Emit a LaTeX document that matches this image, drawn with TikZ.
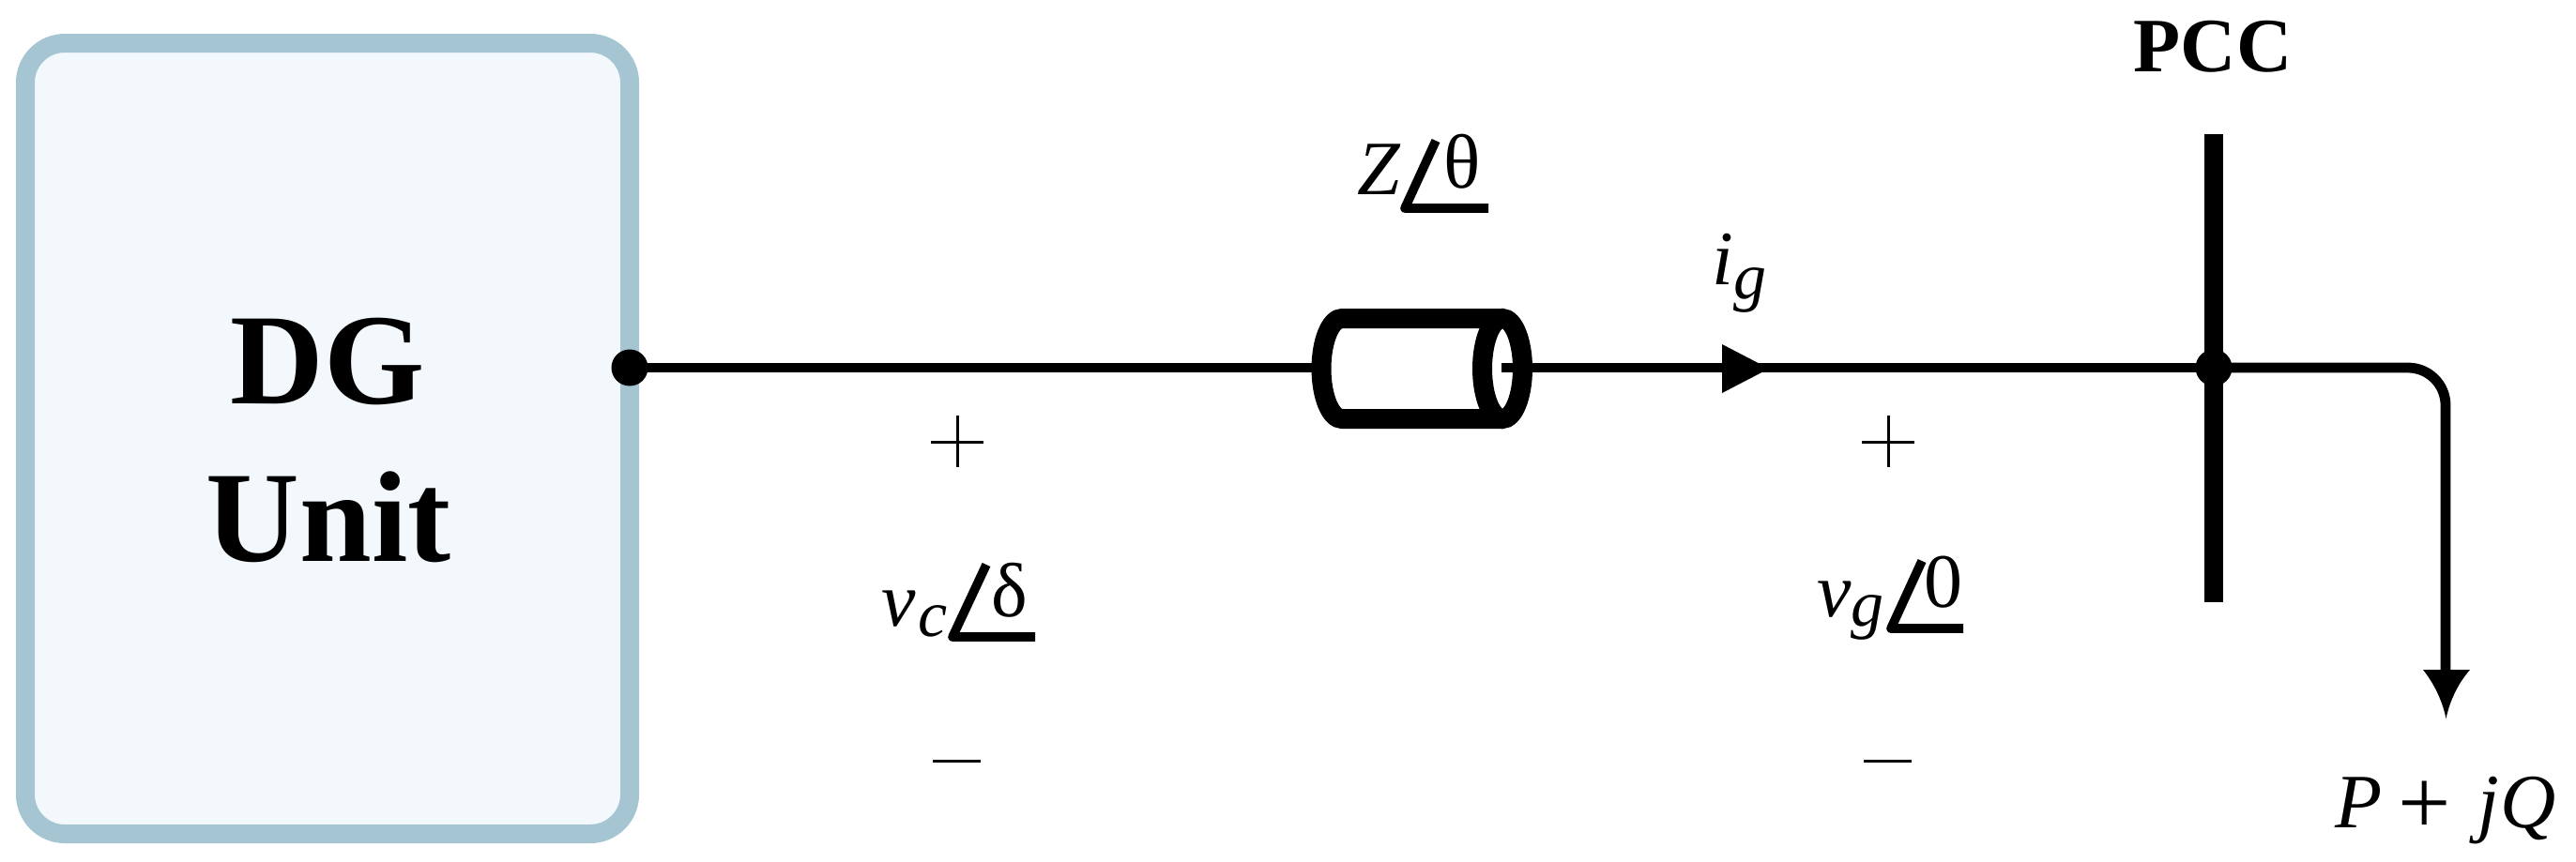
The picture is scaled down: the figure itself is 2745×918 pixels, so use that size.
\documentclass[tikz,border=0pt]{standalone}
\usepackage{fontspec}
\setmainfont{Liberation Serif}
\definecolor{boxedge}{HTML}{A5C5D3}
\definecolor{boxfill}{HTML}{F2F8FB}
\newcommand{\fs}[1]{\fontsize{#1}{#1}\selectfont}
\tikzset{
  txt/.style={inner sep=0pt,outer sep=0pt,anchor=base west,text=black},
  wire/.style={draw=black,line width=5.4pt},
  jn/.style={circle,fill=black,inner sep=0pt,outer sep=0pt,minimum size=19.5pt},
  ang/.style={draw=black,line width=4.8pt,line join=round},
  pm/.style={draw=black,line width=1.5pt},
  pin/.style={inner sep=0pt,outer sep=0pt,minimum size=0pt}
}
\begin{document}
\begin{tikzpicture}[x=0.5pt,y=-0.5pt]
\useasboundingbox (0,0) rectangle (2745,918);
% DG unit
\node[draw=boxedge,fill=boxfill,line width=10pt,rounded corners=21pt,minimum width=322pt,minimum height=421.5pt,inner sep=0pt,outer sep=0pt] (dg) at (349,467.5) {};
\node[txt,anchor=base,font=\fs{69}\bfseries] (dgt) at (349,430) {DG};
\node[txt,anchor=base,font=\fs{69}\bfseries] (unit) at (350,598) {Unit};
% junction dots
\node[jn] (d1) at (671,392) {};
\node[fill=black,minimum width=10pt,minimum height=249.5pt,inner sep=0pt,outer sep=0pt] (bus) at (2359,392.5) {};
\node[jn] (d2) at (2359,392) {};
% impedance
\coordinate (zl) at (1408,392);
\coordinate (zr) at (1600,392);
\draw[wire] (d1.center) -- (zl);
\filldraw[fill=white,draw=black,line width=10.5pt]
  (1601,339.5) -- (1430,339.5) .. controls (1417.85,339.5) and (1408,363.45) .. (1408,393) .. controls (1408,422.55) and (1417.85,446.5) .. (1430,446.5) -- (1601,446.5);
\draw[black,line width=10.5pt,fill=white] (1601,393) ellipse[x radius=21.5,y radius=53.5];
% wires
\coordinate (bend) at (2606,392);
\coordinate (tipb) at (2606,720);
\node[pin] (tip) at (2606.5,766) {};
\draw[wire] (zr) -- (d2.center);
\draw[wire,rounded corners=20pt] (d2.center) -- (bend) -- (tipb);
% arrowheads
\fill[black] (1835,367) -- (1885,393) -- (1835,419) -- cycle;
\fill[black] (2582,714) -- (2632,714) .. controls (2620,728) and (2611,745) .. (tip.center) .. controls (2602,745) and (2593,728) .. (2582,714) -- cycle;
% labels
\node[txt,anchor=base,font=\fs{41}\bfseries] (pcc) at (2358,76) {PCC};
\node[txt,font=\fs{41}\itshape] (pq1) at (2488,882) {P};
\node[txt,font=\fs{50}] (pq2) at (2555,889) {+};
\node[txt,font=\fs{41}\itshape] (pq3) at (2640,882) {j};
\node[txt,font=\fs{41}\itshape] (pq4) at (2664,882) {Q};
\node[txt,font=\fs{41}\itshape] (ig1) at (1824,303) {i};
\node[txt,font=\fs{35}\itshape] (ig2) at (1847,318) {g};
% Z angle theta
\node[txt,font=\fs{41}\itshape] (z) at (1446,207) {Z};
\node[txt,font=\fs{41}] (th) at (1538,200) {θ};
\draw[ang] (1530,150) -- (1497,222) -- (1586,222);
% vc
\node[txt,font=\fs{41}\itshape] (v1) at (939,667) {v};
\node[txt,font=\fs{35}\itshape] (c1) at (978,678) {c};
\node[txt,font=\fs{41}] (de) at (1056,657) {δ};
\draw[ang] (1051,602) -- (1015,679) -- (1103,679);
% vg
\node[txt,font=\fs{41}\itshape] (v2) at (1936,657) {v};
\node[txt,font=\fs{35}\itshape] (g2) at (1972,667) {g};
\node[txt,font=\fs{41}] (zero) at (2050,647) {0};
\draw[ang] (2048,598) -- (2015,670) -- (2092,670);
% plus minus
\draw[pm] (992,471) -- (1048,471) (1020,443) -- (1020,498);
\draw[pm] (1984,471) -- (2040,471) (2012,443) -- (2012,498);
\draw[pm] (994,811) -- (1045,811);
\draw[pm] (1986,811) -- (2037,811);
\end{tikzpicture}
\end{document}
